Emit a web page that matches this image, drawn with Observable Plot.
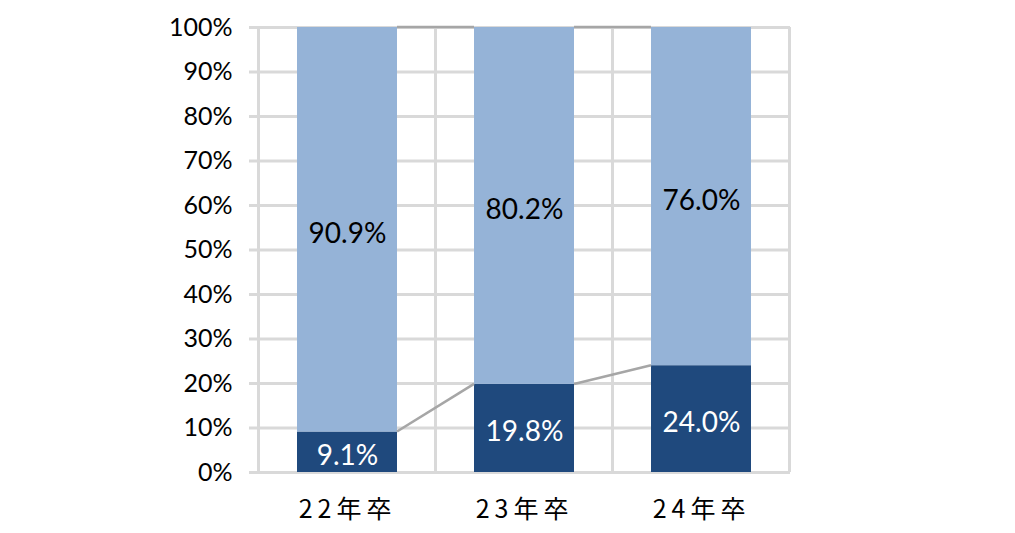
<!DOCTYPE html>
<html>
<head>
<meta charset="utf-8">
<script src="https://cdn.jsdelivr.net/npm/d3@7"></script>
<script src="https://cdn.jsdelivr.net/npm/@observablehq/plot@0.6"></script>
<style>
  html, body { margin: 0; padding: 0; background: #fff; }
  #chart svg { display: block; }
</style>
</head>
<body>
<div id="chart"></div>
<script>
// ---- data ----
const categories = ["22年卒", "23年卒", "24年卒"];
const seriesNames = ["下段", "上段"];
const darkValues = [9.1, 19.8, 24.0];
const lightValues = [90.9, 80.2, 76.0];
const yTicks = [0, 10, 20, 30, 40, 50, 60, 70, 80, 90, 100];

const table = [];
categories.forEach((c, i) => {
  table.push({cat: c, series: seriesNames[0], value: darkValues[i]});
  table.push({cat: c, series: seriesNames[1], value: lightValues[i]});
});

const gridColor = "#D9D9D9";
const lineColor = "#A6A6A6";

function bandInfo(x) {
  const bw = typeof x.bandwidth === "function" ? x.bandwidth() : x.bandwidth;
  const st = typeof x.step === "function" ? x.step() : x.step;
  return {bw, st};
}

// vertical grid lines at band boundaries
const vGrid = (index, scales, values, dims) => {
  const x = scales.x;
  const {bw, st} = bandInfo(x);
  const g = d3.create("svg:g");
  const gap = (st - bw) / 2;
  const xs = categories.map(c => x(c) - gap);
  xs.push(x(categories[categories.length - 1]) + bw + gap);
  xs.forEach(px => {
    g.append("line")
      .attr("x1", px).attr("x2", px)
      .attr("y1", dims.marginTop).attr("y2", dims.height - dims.marginBottom)
      .attr("stroke", gridColor).attr("stroke-width", 3);
  });
  return g.node();
};

// series connector lines between bar tops
const seriesLines = (index, scales, values, dims) => {
  const x = scales.x, y = scales.y;
  const {bw} = bandInfo(x);
  const g = d3.create("svg:g");
  const tops = [darkValues, darkValues.map((d, i) => d + lightValues[i])];
  tops.forEach(arr => {
    for (let i = 0; i < categories.length - 1; i++) {
      g.append("line")
        .attr("x1", x(categories[i]) + bw).attr("y1", y(arr[i]))
        .attr("x2", x(categories[i + 1])).attr("y2", y(arr[i + 1]))
        .attr("stroke", lineColor).attr("stroke-width", 2.6);
    }
  });
  return g.node();
};

const chart = Plot.plot({
  width: 1015,
  height: 533,
  marginLeft: 258,
  marginRight: 225,
  marginTop: 27,
  marginBottom: 61,
  style: {background: "#fff", fontFamily: "Lato, 'Noto Sans', sans-serif"},
  x: {domain: categories, paddingInner: 0.435, paddingOuter: 0.2175, axis: null, label: null},
  y: {domain: [0, 100], axis: null, label: null},
  color: {domain: seriesNames, range: ["#1F497D", "#95B3D7"]},
  marks: [
    Plot.ruleY(yTicks, {y: d => d, stroke: gridColor, strokeWidth: 3, insetLeft: -9}),
    vGrid,
    Plot.barY(table, {x: "cat", y: "value", fill: "series", order: seriesNames}),
    seriesLines,
    Plot.text(table, Plot.stackY({
      x: "cat", y: "value", order: seriesNames,
      text: d => d.value.toFixed(1) + "%",
      fill: d => d.series === seriesNames[0] ? "#ffffff" : "#000000",
      fontSize: 28, dy: 4,
      fontFamily: "Lato, 'Noto Sans', sans-serif"
    })),
    Plot.axisY(yTicks, {
      tickSize: 0, tickPadding: 26, fontSize: 25, label: null,
      tickFormat: d => d + "%", fill: "#000", anchor: "left", textAnchor: "end"
    }),
    Plot.axisX({
      tickSize: 0, tickPadding: 28, fontSize: 25, fill: "#000", label: null,
      fontFamily: "'Noto Sans CJK JP', sans-serif"
    })
  ]
});
document.getElementById("chart").appendChild(chart);
// letter spacing for x labels
chart.querySelectorAll("g[aria-label='x-axis tick label'] text").forEach(t => {
  t.setAttribute("letter-spacing", "5");
});
</script>
</body>
</html>
